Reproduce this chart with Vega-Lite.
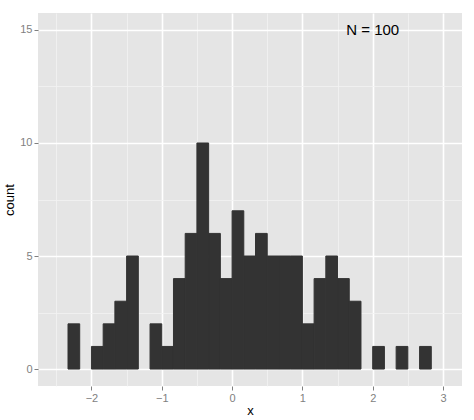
{
  "$schema": "https://vega.github.io/schema/vega-lite/v6.json",
  "width": 424,
  "height": 373,
  "autosize": {"type": "none"},
  "padding": {"left": 38, "top": 13, "right": 12, "bottom": 34},
  "background": "white",
  "config": {
    "view": {"fill": "#E5E5E5", "stroke": null},
    "font": "Liberation Sans",
    "axis": {
      "domain": false,
      "labelFont": "Liberation Sans",
      "labelFontSize": 11,
      "labelColor": "#7F7F7F",
      "labelOverlap": false,
      "labelFlush": false,
      "tickColor": "#7F7F7F",
      "tickSize": 4,
      "titleFont": "Liberation Sans",
      "titleFontSize": 13,
      "titleFontWeight": "normal",
      "titleColor": "black"
    }
  },
  "datasets": {
    "bins": [
      {"start": -2.3333, "end": -2.1667, "count": 2},
      {"start": -2.0, "end": -1.8333, "count": 1},
      {"start": -1.8333, "end": -1.6667, "count": 2},
      {"start": -1.6667, "end": -1.5, "count": 3},
      {"start": -1.5, "end": -1.3333, "count": 5},
      {"start": -1.1667, "end": -1.0, "count": 2},
      {"start": -1.0, "end": -0.8333, "count": 1},
      {"start": -0.8333, "end": -0.6667, "count": 4},
      {"start": -0.6667, "end": -0.5, "count": 6},
      {"start": -0.5, "end": -0.3333, "count": 10},
      {"start": -0.3333, "end": -0.1667, "count": 6},
      {"start": -0.1667, "end": 0.0, "count": 4},
      {"start": 0.0, "end": 0.1667, "count": 7},
      {"start": 0.1667, "end": 0.3333, "count": 5},
      {"start": 0.3333, "end": 0.5, "count": 6},
      {"start": 0.5, "end": 0.6667, "count": 5},
      {"start": 0.6667, "end": 0.8333, "count": 5},
      {"start": 0.8333, "end": 1.0, "count": 5},
      {"start": 1.0, "end": 1.1667, "count": 2},
      {"start": 1.1667, "end": 1.3333, "count": 4},
      {"start": 1.3333, "end": 1.5, "count": 5},
      {"start": 1.5, "end": 1.6667, "count": 4},
      {"start": 1.6667, "end": 1.8333, "count": 3},
      {"start": 2.0, "end": 2.1667, "count": 1},
      {"start": 2.3333, "end": 2.5, "count": 1},
      {"start": 2.6667, "end": 2.8333, "count": 1}
    ],
    "note": [{"x": 2, "y": 15, "label": "N = 100"}]
  },
  "resolve": {"axis": {"x": "independent"}},
  "layer": [
    {
      "data": {"name": "bins"},
      "mark": {"type": "bar", "color": "#333333", "stroke": "#333333", "strokeWidth": 1},
      "encoding": {
        "x": {
          "field": "start",
          "type": "quantitative",
          "scale": {"domain": [-2.76, 3.27], "nice": false, "zero": false},
          "axis": {
            "title": "x",
            "values": [-2, -1, 0, 1, 2, 3],
            "format": "d",
            "grid": true,
            "gridColor": "#FFFFFF",
            "gridWidth": 1.6,
            "labelPadding": 2,
            "titlePadding": 1
          }
        },
        "x2": {"field": "end"},
        "y": {
          "field": "count",
          "type": "quantitative",
          "scale": {"domain": [-0.75, 15.75], "nice": false, "zero": false},
          "axis": {
            "title": "count",
            "values": [0, 2.5, 5, 7.5, 10, 12.5, 15],
            "labelExpr": "datum.value % 5 === 0 ? datum.label : ''",
            "grid": true,
            "gridColor": {"condition": {"test": "datum.value % 5 === 0", "value": "#FFFFFF"}, "value": "#F2F2F2"},
            "gridWidth": {"condition": {"test": "datum.value % 5 === 0", "value": 1.6}, "value": 0.8},
            "tickOpacity": {"condition": {"test": "datum.value % 5 === 0", "value": 1}, "value": 0},
            "labelPadding": 2,
            "titlePadding": 3
          }
        },
        "y2": {"datum": 0}
      }
    },
    {
      "data": {"name": "note"},
      "mark": {"type": "text", "fontSize": 15, "color": "black", "font": "Liberation Sans"},
      "encoding": {
        "x": {
          "field": "x",
          "type": "quantitative",
          "axis": {
            "title": null,
            "values": [-2.5, -1.5, -0.5, 0.5, 1.5, 2.5],
            "labels": false,
            "ticks": false,
            "grid": true,
            "gridColor": "#F2F2F2",
            "gridWidth": 0.8
          }
        },
        "y": {"field": "y", "type": "quantitative"},
        "text": {"field": "label"}
      }
    }
  ]
}
